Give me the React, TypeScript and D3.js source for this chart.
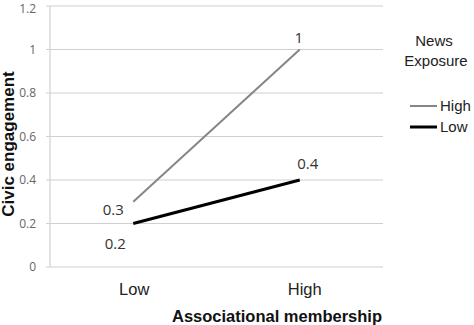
import React from "react";
import * as d3 from "d3";

const categories = ["Low", "High"];
const highSeries = [0.3, 1];
const lowSeries = [0.2, 0.4];
const yTicks = [0, 0.2, 0.4, 0.6, 0.8, 1, 1.2];
const seriesNames = ["High", "Low"];

const W = 474;
const H = 325;
const left = 50;
const right = 383;
const top = 6;
const bottom = 267;

export default function App() {
  const x = d3.scaleBand<string>().domain(categories).range([left, right]);
  const y = d3.scaleLinear().domain([0, 1.2]).range([bottom, top]);
  const cx = (c: string) => (x(c) as number) + x.bandwidth() / 2;
  const line = d3
    .line<number>()
    .x((_, i) => cx(categories[i]))
    .y((d) => y(d));
  const series = [
    { name: seriesNames[0], values: highSeries, color: "#858585", width: 2 },
    { name: seriesNames[1], values: lowSeries, color: "#000000", width: 3 },
  ];
  const tickFont = "'Open Sans', sans-serif";
  const arial = "'Liberation Sans', Arial, sans-serif";
  return (
    <svg
      width={W}
      height={H}
      style={{ position: "absolute", left: 0, top: 0, background: "#fff" }}
    >
      <rect width={W} height={H} fill="#fff" />
      {yTicks.map((t) => (
        <g key={t}>
          <line x1={left - 4} x2={right} y1={y(t)} y2={y(t)} stroke="#d0d0d0" strokeWidth={1.2} />
          <text
            x={36}
            y={Math.max(y(t), 9)}
            dy="0.35em"
            textAnchor="end"
            fontSize={12}
            fontFamily={tickFont}
            fill="#666"
          >
            {d3.format("")(t)}
          </text>
        </g>
      ))}
      <line x1={left} x2={left} y1={top} y2={bottom} stroke="#d0d0d0" strokeWidth={1.2} />
      {categories.map((c) => (
        <text
          key={c}
          x={cx(c) + (c === "High" ? 5 : 1)}
          y={295}
          textAnchor="middle"
          fontSize={16.5}
          fontFamily={arial}
          fill="#222"
        >
          {c}
        </text>
      ))}
      {series.map((s) => (
        <path key={s.name} d={line(s.values) || ""} fill="none" stroke={s.color} strokeWidth={s.width} />
      ))}
      {/* data labels */}
      <text x={cx("Low") - 20} y={y(highSeries[0]) + 8} dy="0.35em" textAnchor="middle" fontSize={15} fontFamily={tickFont} fill="#333">
        {highSeries[0]}
      </text>
      <text x={cx("Low") - 18} y={y(lowSeries[0]) + 20} dy="0.35em" textAnchor="middle" fontSize={15} fontFamily={tickFont} fill="#333">
        {lowSeries[0]}
      </text>
      <text x={cx("High") - 1} y={y(highSeries[1]) - 12} dy="0.35em" textAnchor="middle" fontSize={15} fontFamily={tickFont} fill="#333">
        {highSeries[1]}
      </text>
      <text x={cx("High") + 8} y={y(lowSeries[1]) - 16} dy="0.35em" textAnchor="middle" fontSize={15} fontFamily={tickFont} fill="#333">
        {lowSeries[1]}
      </text>
      {/* axis titles */}
      <text
        transform={`translate(14, ${144}) rotate(-90)`}
        textAnchor="middle"
        fontSize={17}
        fontWeight="bold"
        fontFamily={arial}
        fill="#111"
      >
        Civic engagement
      </text>
      <text x={277} y={322} textAnchor="middle" fontSize={16.5} fontWeight="bold" fontFamily={arial} fill="#111">
        Associational membership
      </text>
      {/* legend */}
      <text x={434} y={46} textAnchor="middle" fontSize={15} fontFamily={arial} fill="#222">
        News
      </text>
      <text x={436} y={66} textAnchor="middle" fontSize={15} fontFamily={arial} fill="#222">
        Exposure
      </text>
      {series.map((s, i) => (
        <g key={s.name} transform={`translate(0, ${106 + i * 21})`}>
          <line x1={410} x2={437} y1={0} y2={0} stroke={s.color} strokeWidth={s.width} />
          <text x={440} y={0} dy="0.36em" fontSize={15} fontFamily={arial} fill="#222">
            {s.name}
          </text>
        </g>
      ))}
    </svg>
  );
}
